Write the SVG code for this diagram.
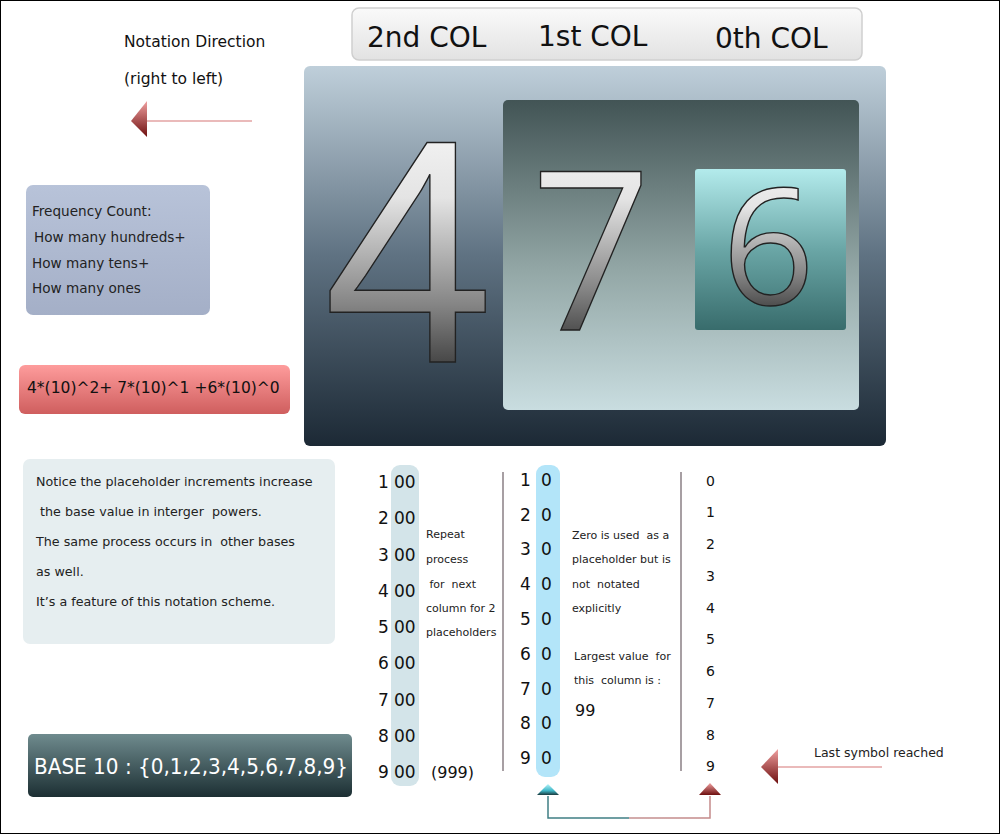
<svg xmlns="http://www.w3.org/2000/svg" width="1000" height="834" viewBox="0 0 1000 834">
<defs>
<linearGradient id="gHead" x1="0" y1="0" x2="0" y2="1"><stop offset="0" stop-color="#fafafa"/><stop offset="1" stop-color="#e2e2e2"/></linearGradient>
<linearGradient id="gMain" x1="0" y1="0" x2="0" y2="1"><stop offset="0" stop-color="#bfcfda"/><stop offset="0.5" stop-color="#5f7282"/><stop offset="1" stop-color="#1c2935"/></linearGradient>
<linearGradient id="gInner" x1="0" y1="0" x2="0" y2="1"><stop offset="0" stop-color="#425455"/><stop offset="0.55" stop-color="#93a7a6"/><stop offset="1" stop-color="#c9dde0"/></linearGradient>
<linearGradient id="gTeal" x1="0" y1="0" x2="0" y2="1"><stop offset="0" stop-color="#b3ebec"/><stop offset="0.5" stop-color="#6aa6a6"/><stop offset="1" stop-color="#386c6c"/></linearGradient>
<linearGradient id="gDigit" x1="0" y1="0" x2="0" y2="1"><stop offset="0" stop-color="#ffffff"/><stop offset="0.35" stop-color="#e4e4e4"/><stop offset="0.65" stop-color="#858585"/><stop offset="1" stop-color="#000000"/></linearGradient>
<linearGradient id="gFreq" x1="0" y1="0" x2="0" y2="1"><stop offset="0" stop-color="#b8c3d9"/><stop offset="1" stop-color="#a4afc7"/></linearGradient>
<linearGradient id="gRed" x1="0" y1="0" x2="0" y2="1"><stop offset="0" stop-color="#fe9c9c"/><stop offset="1" stop-color="#cf5e5e"/></linearGradient>
<linearGradient id="gBase" x1="0" y1="0" x2="0" y2="1"><stop offset="0" stop-color="#6f8b8e"/><stop offset="1" stop-color="#1c2f33"/></linearGradient>
<linearGradient id="gArrRed" x1="0" y1="0" x2="0" y2="1"><stop offset="0" stop-color="#f0a0a0"/><stop offset="1" stop-color="#6e0f0f"/></linearGradient>
<linearGradient id="gArrCyan" x1="0" y1="0" x2="0" y2="1"><stop offset="0" stop-color="#b8f4fa"/><stop offset="0.6" stop-color="#40b8c8"/><stop offset="1" stop-color="#1a3a3e"/></linearGradient>
<linearGradient id="gConn" gradientUnits="userSpaceOnUse" x1="548" y1="0" x2="710" y2="0"><stop offset="0" stop-color="#3f7e84"/><stop offset="0.5" stop-color="#3f7e84"/><stop offset="0.5" stop-color="#c49090"/><stop offset="1" stop-color="#c48a8a"/></linearGradient>
</defs>
<style>
text{font-family:"DejaVu Sans","Liberation Sans",sans-serif;fill:#111;white-space:pre}
.hd{font-size:28px;fill:#111}
.s14{font-size:13.6px;fill:#222}
.s13{font-size:12.7px;fill:#222}
.s12{font-size:11px;fill:#222}
.num{font-size:17px}
.num1{font-size:14px}
.big{font-family:"Open Sans","Liberation Sans",sans-serif;fill:url(#gDigit);stroke:#222;stroke-width:1.4}
.vline{stroke:#8a7f84;stroke-width:1.5}
</style>
<rect x="0.5" y="0.5" width="999" height="833" fill="#ffffff" stroke="#000" stroke-width="1"/>

<g id="direction">
<text x="124" y="47" style="font-size:15.5px">Notation Direction</text>
<text x="124" y="84" style="font-size:15.5px">(right to left)</text>
</g>

<g id="header">
<rect x="352" y="8" width="510" height="52" rx="7" fill="url(#gHead)" stroke="#cfcfcf" stroke-width="1.5"/>
<text class="hd" x="367" y="47">2nd COL</text>
<text class="hd" x="538" y="46">1st COL</text>
<text class="hd" x="715" y="48">0th COL</text>
</g>

<g id="main-panel">
<rect x="304" y="66" width="582" height="380" rx="6" fill="url(#gMain)"/>
<rect x="503" y="100" width="356" height="310" rx="5" fill="url(#gInner)"/>
<rect x="695" y="169" width="151" height="161" rx="3" fill="url(#gTeal)"/>
<text class="big" transform="translate(323,362) scale(0.965,1)" style="font-family:'Liberation Sans',sans-serif;font-size:319px">4</text>
<text class="big" transform="translate(531,330) scale(0.95,1)" style="font-size:222px">7</text>
<text class="big" transform="translate(722,304)" style="font-size:162px">6</text>
</g>

<g id="frequency">
<rect x="26" y="185" width="184" height="130" rx="7" fill="url(#gFreq)"/>
<text class="s14" x="32" y="216">Frequency Count:</text>
<text class="s14" x="34" y="242">How many hundreds+</text>
<text class="s14" x="32" y="268">How many tens+</text>
<text class="s14" x="32" y="293">How many ones</text>
</g>

<g id="formula">
<rect x="19" y="365" width="271" height="49" rx="6" fill="url(#gRed)"/>
<text x="27" y="393" style="font-size:15.5px">4*(10)^2+ 7*(10)^1 +6*(10)^0</text>
</g>

<g id="notice">
<rect x="23" y="459" width="312" height="185" rx="7" fill="#e6eef0"/>
<text class="s13" x="36" y="486">Notice the placeholder increments increase</text>
<text class="s13" x="36" y="516"> the base value in interger  powers.</text>
<text class="s13" x="36" y="546">The same process occurs in  other bases</text>
<text class="s13" x="36" y="576">as well.</text>
<text class="s13" x="36" y="606">It’s a feature of this notation scheme.</text>
</g>

<g id="base">
<rect x="28" y="734" width="324" height="63" rx="5" fill="url(#gBase)"/>
<text x="34" y="774" textLength="314" lengthAdjust="spacingAndGlyphs" style="font-size:21px;fill:#ffffff">BASE 10 : {0,1,2,3,4,5,6,7,8,9}</text>
</g>

<g id="hundreds">
<rect x="391" y="465" width="28" height="321" rx="9" fill="#d3e4e9"/>
<g class="num">
<text x="378" y="488">1</text><text x="394" y="488">00</text>
<text x="378" y="524">2</text><text x="394" y="524">00</text>
<text x="378" y="561">3</text><text x="394" y="561">00</text>
<text x="378" y="597">4</text><text x="394" y="597">00</text>
<text x="378" y="633">5</text><text x="394" y="633">00</text>
<text x="378" y="669">6</text><text x="394" y="669">00</text>
<text x="378" y="706">7</text><text x="394" y="706">00</text>
<text x="378" y="742">8</text><text x="394" y="742">00</text>
<text x="378" y="778">9</text><text x="394" y="778">00</text>
</g>
<text class="s12" x="426" y="538">Repeat</text>
<text class="s12" x="426" y="563">process</text>
<text class="s12" x="426" y="588"> for  next</text>
<text class="s12" x="426" y="612">column for 2</text>
<text class="s12" x="426" y="636">placeholders</text>
<text x="431" y="778" style="font-size:16px">(999)</text>
</g>

<g id="tens">
<rect x="536" y="465" width="24" height="312" rx="9" fill="#b3e5f9"/>
<g class="num">
<text x="520" y="486">1</text><text x="541" y="486">0</text>
<text x="520" y="521">2</text><text x="541" y="521">0</text>
<text x="520" y="555">3</text><text x="541" y="555">0</text>
<text x="520" y="590">4</text><text x="541" y="590">0</text>
<text x="520" y="625">5</text><text x="541" y="625">0</text>
<text x="520" y="660">6</text><text x="541" y="660">0</text>
<text x="520" y="695">7</text><text x="541" y="695">0</text>
<text x="520" y="729">8</text><text x="541" y="729">0</text>
<text x="520" y="764">9</text><text x="541" y="764">0</text>
</g>
<text class="s12" x="572" y="539">Zero is used  as a</text>
<text class="s12" x="572" y="563">placeholder but is</text>
<text class="s12" x="572" y="588">not  notated</text>
<text class="s12" x="572" y="612">explicitly</text>
<text class="s12" x="574" y="660">Largest value  for</text>
<text class="s12" x="574" y="684">this  column is :</text>
<text x="575" y="716" style="font-size:16px">99</text>
</g>

<g id="ones">
<g class="num1">
<text x="706" y="486">0</text>
<text x="706" y="517">1</text>
<text x="706" y="549">2</text>
<text x="706" y="581">3</text>
<text x="706" y="613">4</text>
<text x="706" y="644">5</text>
<text x="706" y="676">6</text>
<text x="706" y="708">7</text>
<text x="706" y="740">8</text>
<text x="706" y="771">9</text>
</g>
</g>

<g id="last-symbol">
<text x="814" y="757" style="font-size:12.5px;fill:#222">Last symbol reached</text>
</g>

<g id="connectors">
<line class="vline" x1="503" y1="472" x2="503" y2="771"/>
<line class="vline" x1="681" y1="472" x2="681" y2="771"/>
<line x1="147" y1="121" x2="252" y2="121" stroke="#e3a3a3" stroke-width="1.5"/>
<polygon points="131,121 147,101 147,137" fill="url(#gArrRed)"/>
<line x1="778" y1="767" x2="882" y2="767" stroke="#e3a3a3" stroke-width="1.5"/>
<polygon points="761,767 778,749 778,784" fill="url(#gArrRed)"/>
<polyline points="548,796 548,818 710,818 710,796" fill="none" stroke="url(#gConn)" stroke-width="1.5"/>
<polygon points="548,784 537,795 559,795" fill="url(#gArrCyan)"/>
<polygon points="710,783 699,795 721,795" fill="url(#gArrRed)"/>
</g>
</svg>
